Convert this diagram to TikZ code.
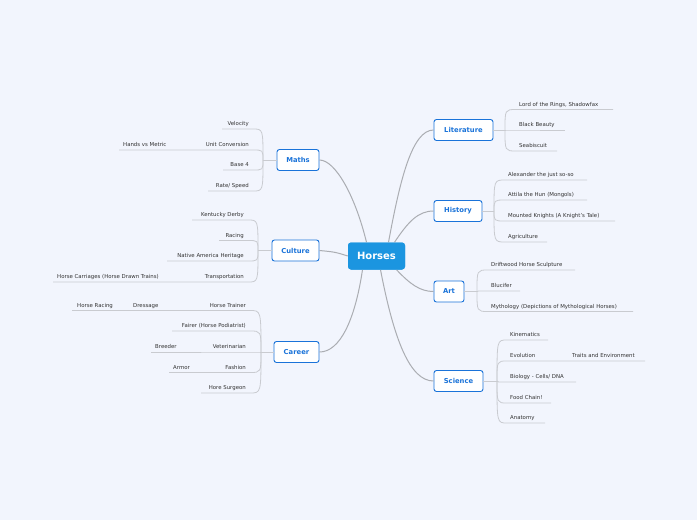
\documentclass[tikz,border=0pt]{standalone}
\usepackage{fontspec}
\setmainfont{DejaVu Sans}
\usetikzlibrary{calc}
\definecolor{bg}{HTML}{F2F5FD}
\definecolor{tblue}{HTML}{1A73D9}
\definecolor{cblue}{HTML}{1B95E0}
\definecolor{lgray}{HTML}{C9CBD0}
\definecolor{mgray}{HTML}{ABADB2}
\definecolor{ltext}{HTML}{333333}
\tikzset{
  topic/.style={draw=tblue,line width=0.9pt,fill=white,rounded corners=2.5pt,text=tblue,font=\fontsize{6.8}{8}\selectfont\bfseries,inner sep=0pt,minimum height=21pt},
  central/.style={fill=cblue,rounded corners=3pt,text=white,font=\fontsize{10}{12}\selectfont\bfseries,minimum width=57pt,minimum height=27pt,inner sep=0pt},
  leaf/.style={text=ltext,font=\fontsize{5.4}{6}\selectfont,inner sep=0pt},
  leafline/.style={draw=lgray,line width=0.8pt},
  mainline/.style={draw=mgray,line width=1pt}
}
\newcommand\leafR[6]{%
  \coordinate (#1s) at (#3,#4); \coordinate (#1e) at (#5,#4);
  \draw[leafline] (#2) .. controls (#2 |- #1s) .. (#1s) -- (#1e);
  \node[leaf,anchor=base west] (#1) at (#3+3,#4-3.5) {#6};}
\newcommand\leafL[6]{%
  \coordinate (#1s) at (#3,#4); \coordinate (#1e) at (#5,#4);
  \draw[leafline] (#2) .. controls (#2 |- #1s) .. (#1s) -- (#1e);
  \node[leaf,anchor=base east] (#1) at (#3-4,#4-3.5) {#6};}
\begin{document}
\begin{tikzpicture}[x=1pt,y=-1pt]
\fill[bg] (0,0) rectangle (697,520);
\useasboundingbox (0,0) rectangle (697,520);
% nodes
\node[central] (h) at (376.5,256) {Horses};
\node[topic,minimum width=59pt] (lit) at (463.5,130) {Literature};
\node[topic,minimum width=48pt] (his) at (458,211) {History};
\node[topic,minimum width=30pt] (art) at (449,291.5) {Art};
\node[topic,minimum width=49pt] (sci) at (458.5,381) {Science};
\node[topic,minimum width=42pt] (mat) at (298,160) {Maths};
\node[topic,minimum width=47pt] (cul) at (295.5,250.5) {Culture};
\node[topic,minimum width=45pt] (car) at (296.5,352) {Career};
% main connectors
\begin{scope}[on background layer/.style={}]
\draw[mainline] ($(h.north)+(12,0)$) .. controls (400,180) and (412,130) .. (lit.west);
\draw[mainline] ($(h.north)+(18,0)$) .. controls (408,222) and (418,211) .. (his.west);
\draw[mainline] ($(h.south)+(20,0)$) .. controls (410,284) and (420,291.5) .. (art.west);
\draw[mainline] ($(h.south)+(4,0)$) .. controls (394,340) and (410,381) .. (sci.west);
\draw[mainline] ($(h.north)+(-10,0)$) .. controls (355,195) and (335,160) .. (mat.east);
\draw[mainline] (h.west) .. controls (335,252) .. (cul.east);
\draw[mainline] ($(h.south)+(-14,0)$) .. controls (355,320) and (340,352) .. (car.east);
\end{scope}
% junctions
\coordinate (jlit) at (505,130); \draw[leafline] (lit.east) -- (jlit);
\coordinate (jhis) at (494,211); \draw[leafline] (his.east) -- (jhis);
\coordinate (jart) at (477,291.5); \draw[leafline] (art.east) -- (jart);
\coordinate (jsci) at (497,381); \draw[leafline] (sci.east) -- (jsci);
\coordinate (jmat) at (263,160); \draw[leafline] (mat.west) -- (jmat);
\coordinate (jcul) at (258,250.5); \draw[leafline] (cul.west) -- (jcul);
\coordinate (jcar) at (261,352); \draw[leafline] (car.west) -- (jcar);
% right leaves
\leafR{l1}{jlit}{516}{109.5}{613}{Lord of the Rings, Shadowfax}
\leafR{l2}{jlit}{516}{130}{565}{Black Beauty}
\leafR{l3}{jlit}{516}{151}{557}{Seabiscuit}
\leafR{h1}{jhis}{505}{180}{587}{Alexander the just so-so}
\leafR{h2}{jhis}{505}{200}{587}{Attila the Hun (Mongols)}
\leafR{h3}{jhis}{505}{221}{615}{Mounted Knights (A Knight's Tale)}
\leafR{h4}{jhis}{505}{242}{547}{Agriculture}
\leafR{a1}{jart}{488}{270}{575}{Driftwood Horse Sculpture}
\leafR{a2}{jart}{488}{291}{520}{Blucifer}
\leafR{a3}{jart}{488}{311.5}{633}{Mythology (Depictions of Mythological Horses)}
\leafR{s1}{jsci}{507}{340}{548}{Kinematics}
\leafR{s2}{jsci}{507}{361}{645}{Evolution}
\node[leaf,anchor=base west] (s2b) at (572,357.5) {Traits and Environment};
\leafR{s3}{jsci}{507}{382}{576}{Biology - Cells/ DNA}
\leafR{s4}{jsci}{507}{403}{551}{Food Chain!}
\leafR{s5}{jsci}{507}{423}{545}{Anatomy}
% left leaves
\leafL{m1}{jmat}{253}{129}{222}{Velocity}
\leafL{m2}{jmat}{253}{150}{119}{Unit Conversion}
\node[leaf,anchor=base west] (m2b) at (123,146.5) {Hands vs Metric};
\leafL{m3}{jmat}{253}{170}{223}{Base 4}
\leafL{m4}{jmat}{253}{191}{208}{Rate/ Speed}
\leafL{c1}{jcul}{248}{220}{192}{Kentucky Derby}
\leafL{c2}{jcul}{248}{240.5}{219}{Racing}
\leafL{c3}{jcul}{248}{261}{167}{Native America Heritage}
\leafL{c4}{jcul}{248}{282}{53}{Transportation}
\node[leaf,anchor=base west] (c4b) at (57,278.5) {Horse Carriages (Horse Drawn Trains)};
\leafL{k1}{jcar}{250}{310.5}{72}{Horse Trainer}
\node[leaf,anchor=base west] (k1b) at (133,307) {Dressage};
\node[leaf,anchor=base west] (k1c) at (77,307) {Horse Racing};
\leafL{k2}{jcar}{250}{331}{172}{Fairer (Horse Podiatrist)}
\leafL{k3}{jcar}{250}{352}{151}{Veterinarian}
\node[leaf,anchor=base west] (k3b) at (155,348.5) {Breeder};
\leafL{k4}{jcar}{250}{372.5}{169}{Fashion}
\node[leaf,anchor=base west] (k4b) at (173,369) {Armor};
\leafL{k5}{jcar}{250}{393}{201}{Hore Surgeon}
% redraw nodes on top
\node[central] at (h) {Horses};
\end{tikzpicture}
\end{document}
